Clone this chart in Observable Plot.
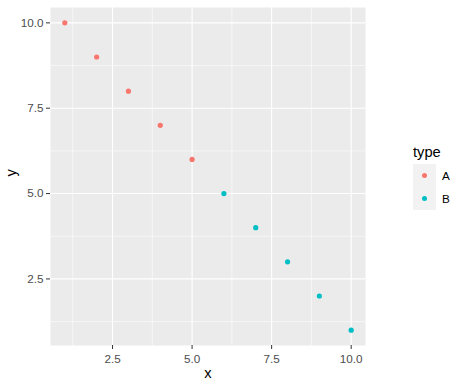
<!DOCTYPE html>
<html>
<head>
<meta charset="utf-8">
<script src="https://cdn.jsdelivr.net/npm/d3@7"></script>
<script src="https://cdn.jsdelivr.net/npm/@observablehq/plot@0.6"></script>
<style>
  body { margin: 0; background: white; font-family: "Liberation Sans", Arial, sans-serif; }
  #wrap { position: relative; width: 460px; height: 385px; }
  #legend { position: absolute; left: 413px; top: 143px; }
  #legend .title { font-size: 14.7px; color: #000; line-height: 18px; margin-bottom: 3px; }
  #legend .row { display: flex; align-items: center; height: 23px; }
  #legend .key { width: 23px; height: 23px; background: #F2F2F2; position: relative; }
  #legend .key span { position: absolute; left: 9px; top: 9px; width: 5px; height: 5px; border-radius: 50%; }
  #legend .lab { font-size: 11.7px; color: #000; margin-left: 6px; }
</style>
</head>
<body>
<div id="wrap"><div id="legend"></div></div>
<script>
const xs = [1, 2, 3, 4, 5, 6, 7, 8, 9, 10];
const ys = [10, 9, 8, 7, 6, 5, 4, 3, 2, 1];
const types = ["A", "A", "A", "A", "A", "B", "B", "B", "B", "B"];
const typeLevels = ["A", "B"];
const typeColors = ["#F8766D", "#00BFC4"];
const majorTicks = [2.5, 5, 7.5, 10];
const minorTicks = [1.25, 3.75, 6.25, 8.75];

const data = xs.map((x, i) => ({x, y: ys[i], type: types[i]}));

const chart = Plot.plot({
  width: 460,
  height: 385,
  marginLeft: 50,
  marginRight: 95,
  marginTop: 7,
  marginBottom: 40,
  style: {fontFamily: "Liberation Sans, Arial, sans-serif", fontSize: "11.7px", background: "white", overflow: "visible"},
  x: {domain: [0.55, 10.45], label: null},
  y: {domain: [0.55, 10.45], label: null},
  color: {domain: typeLevels, range: typeColors},
  marks: [
    Plot.frame({fill: "#EBEBEB", stroke: null}),
    Plot.ruleX(minorTicks, {stroke: "white", strokeWidth: 0.55}),
    Plot.ruleY(minorTicks, {stroke: "white", strokeWidth: 0.55}),
    Plot.ruleX(majorTicks, {stroke: "white", strokeWidth: 1.1}),
    Plot.ruleY(majorTicks, {stroke: "white", strokeWidth: 1.1}),
    Plot.axisX({ticks: majorTicks, tickFormat: d3.format(".1f"), tickSize: 4, tickPadding: 5, stroke: "#333333", fill: "#4D4D4D", label: null}),
    Plot.axisY({ticks: majorTicks, tickFormat: d3.format(".1f"), tickSize: 4, tickPadding: 3, stroke: "#333333", fill: "#4D4D4D", label: null}),
    Plot.dot(data, {x: "x", y: "y", fill: "type", r: 2.6, stroke: null}),
    Plot.text(["x"], {frameAnchor: "bottom", dy: 32, fontSize: 14.7, fill: "black"}),
    Plot.text(["y"], {frameAnchor: "left", dx: -39, rotate: -90, fontSize: 14.7, fill: "black"})
  ]
});
document.getElementById("wrap").prepend(chart);

const leg = document.getElementById("legend");
const t = document.createElement("div");
t.className = "title";
t.textContent = "type";
leg.appendChild(t);
typeLevels.forEach((lv, i) => {
  const row = document.createElement("div");
  row.className = "row";
  const key = document.createElement("div");
  key.className = "key";
  const s = document.createElement("span");
  s.style.background = typeColors[i];
  key.appendChild(s);
  const lab = document.createElement("div");
  lab.className = "lab";
  lab.textContent = lv;
  row.appendChild(key);
  row.appendChild(lab);
  leg.appendChild(row);
});
</script>
</body>
</html>
